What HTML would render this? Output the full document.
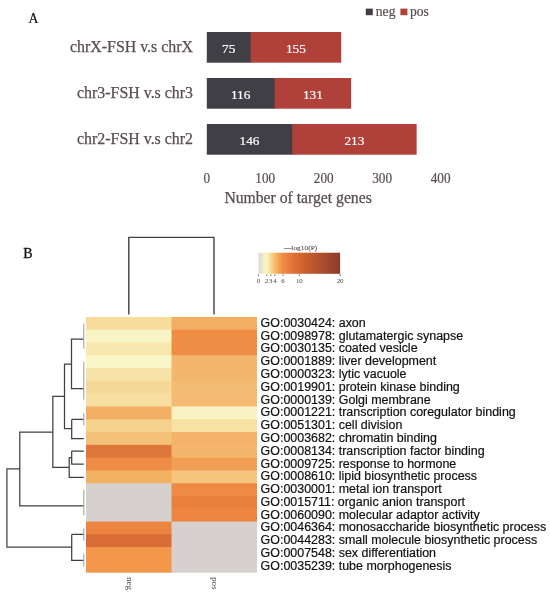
<!DOCTYPE html>
<html><head><meta charset="utf-8"><title>Figure</title>
<style>html,body{margin:0;padding:0;background:#fff;}body{width:550px;height:598px;overflow:hidden;}svg{display:block;}</style>
</head><body>
<svg width="550" height="598" viewBox="0 0 550 598">
<rect width="550" height="598" fill="#fff"/>
<text x="28.5" y="23.4" font-family="'Liberation Serif', 'Times New Roman', serif" font-size="13.7" fill="#111" stroke="#111" stroke-width="0.2">A</text>
<rect x="365.8" y="8.6" width="7" height="6.6" fill="#403f46"/>
<text x="375.8" y="15.6" font-family="'Liberation Serif', 'Times New Roman', serif" font-size="13.6" fill="#594f4f" stroke="#594f4f" stroke-width="0.2">neg</text>
<rect x="400.4" y="8.6" width="7" height="6.6" fill="#af413a"/>
<text x="410" y="15.6" font-family="'Liberation Serif', 'Times New Roman', serif" font-size="13.6" fill="#594f4f" stroke="#594f4f" stroke-width="0.2">pos</text>
<rect x="206.8" y="32" width="44.84" height="30.7" fill="#403f46"/>
<rect x="250.64" y="32" width="90.60" height="30.7" fill="#af413a"/>
<text x="228.72" y="52.90" text-anchor="middle" font-family="'Liberation Serif', 'Times New Roman', serif" font-size="13.3" fill="#fff" stroke="#fff" stroke-width="0.2">75</text>
<text x="295.94" y="52.90" text-anchor="middle" font-family="'Liberation Serif', 'Times New Roman', serif" font-size="13.3" fill="#fff" stroke="#fff" stroke-width="0.2">155</text>
<text x="193" y="52.40" text-anchor="end" font-family="'Liberation Serif', 'Times New Roman', serif" font-size="15.9" fill="#594f4f" stroke="#594f4f" stroke-width="0.25">chrX-FSH v.s chrX</text>
<rect x="206.8" y="78" width="68.80" height="30.7" fill="#403f46"/>
<rect x="274.60" y="78" width="76.57" height="30.7" fill="#af413a"/>
<text x="240.70" y="98.90" text-anchor="middle" font-family="'Liberation Serif', 'Times New Roman', serif" font-size="13.3" fill="#fff" stroke="#fff" stroke-width="0.2">116</text>
<text x="312.89" y="98.90" text-anchor="middle" font-family="'Liberation Serif', 'Times New Roman', serif" font-size="13.3" fill="#fff" stroke="#fff" stroke-width="0.2">131</text>
<text x="193" y="98.40" text-anchor="end" font-family="'Liberation Serif', 'Times New Roman', serif" font-size="15.9" fill="#594f4f" stroke="#594f4f" stroke-width="0.25">chr3-FSH v.s chr3</text>
<rect x="206.8" y="124" width="86.34" height="30.7" fill="#403f46"/>
<rect x="292.14" y="124" width="124.50" height="30.7" fill="#af413a"/>
<text x="249.47" y="144.90" text-anchor="middle" font-family="'Liberation Serif', 'Times New Roman', serif" font-size="13.3" fill="#fff" stroke="#fff" stroke-width="0.2">146</text>
<text x="354.39" y="144.90" text-anchor="middle" font-family="'Liberation Serif', 'Times New Roman', serif" font-size="13.3" fill="#fff" stroke="#fff" stroke-width="0.2">213</text>
<text x="193" y="144.40" text-anchor="end" font-family="'Liberation Serif', 'Times New Roman', serif" font-size="15.9" fill="#594f4f" stroke="#594f4f" stroke-width="0.25">chr2-FSH v.s chr2</text>
<text transform="translate(206.80,183.2) scale(1,1.12)" text-anchor="middle" font-family="'Liberation Serif', 'Times New Roman', serif" font-size="13.2" fill="#594f4f" stroke="#594f4f" stroke-width="0.2">0</text>
<text transform="translate(265.25,183.2) scale(1,1.12)" text-anchor="middle" font-family="'Liberation Serif', 'Times New Roman', serif" font-size="13.2" fill="#594f4f" stroke="#594f4f" stroke-width="0.2">100</text>
<text transform="translate(323.70,183.2) scale(1,1.12)" text-anchor="middle" font-family="'Liberation Serif', 'Times New Roman', serif" font-size="13.2" fill="#594f4f" stroke="#594f4f" stroke-width="0.2">200</text>
<text transform="translate(382.15,183.2) scale(1,1.12)" text-anchor="middle" font-family="'Liberation Serif', 'Times New Roman', serif" font-size="13.2" fill="#594f4f" stroke="#594f4f" stroke-width="0.2">300</text>
<text transform="translate(440.60,183.2) scale(1,1.12)" text-anchor="middle" font-family="'Liberation Serif', 'Times New Roman', serif" font-size="13.2" fill="#594f4f" stroke="#594f4f" stroke-width="0.2">400</text>
<text x="224.4" y="202.8" font-family="'Liberation Serif', 'Times New Roman', serif" font-size="15.7" fill="#594f4f" stroke="#594f4f" stroke-width="0.25">Number of target genes</text>
<text x="23.2" y="257.7" font-family="'Liberation Serif', 'Times New Roman', serif" font-size="14" fill="#111" stroke="#111" stroke-width="0.3">B</text>
<path d="M128.8,314.5V237.4H214V314.5" fill="none" stroke="#404040" stroke-width="1.4"/>
<defs><linearGradient id="cb" x1="0" x2="1" y1="0" y2="0"><stop offset="0" stop-color="#dad6ce"/><stop offset="0.05" stop-color="#eeeacc"/><stop offset="0.1" stop-color="#fbf3c0"/><stop offset="0.15" stop-color="#f8da94"/><stop offset="0.2" stop-color="#f5bc6c"/><stop offset="0.25" stop-color="#f2a052"/><stop offset="0.3" stop-color="#ef8b42"/><stop offset="0.5" stop-color="#d6662f"/><stop offset="0.75" stop-color="#b0502e"/><stop offset="1" stop-color="#8a3c2c"/></linearGradient></defs>
<rect x="258.6" y="252.7" width="81.50" height="21.1" fill="url(#cb)"/>
<text transform="translate(300.6,249.5) scale(1,0.8)" text-anchor="middle" font-family="'Liberation Serif', 'Times New Roman', serif" font-size="7.4" fill="#5a5a5a" stroke="#5a5a5a" stroke-width="0.15">—log10(P)</text>
<rect x="258.10" y="274.4" width="1" height="1.6" fill="#666"/>
<text x="258.60" y="283.2" text-anchor="middle" font-family="'Liberation Serif', 'Times New Roman', serif" font-size="6.9" fill="#444">0</text>
<rect x="266.25" y="274.4" width="1" height="1.6" fill="#666"/>
<text x="266.75" y="283.2" text-anchor="middle" font-family="'Liberation Serif', 'Times New Roman', serif" font-size="6.9" fill="#444">2</text>
<rect x="270.33" y="274.4" width="1" height="1.6" fill="#666"/>
<text x="270.83" y="283.2" text-anchor="middle" font-family="'Liberation Serif', 'Times New Roman', serif" font-size="6.9" fill="#444">3</text>
<rect x="274.40" y="274.4" width="1" height="1.6" fill="#666"/>
<text x="274.90" y="283.2" text-anchor="middle" font-family="'Liberation Serif', 'Times New Roman', serif" font-size="6.9" fill="#444">4</text>
<rect x="282.55" y="274.4" width="1" height="1.6" fill="#666"/>
<text x="283.05" y="283.2" text-anchor="middle" font-family="'Liberation Serif', 'Times New Roman', serif" font-size="6.9" fill="#444">6</text>
<rect x="298.85" y="274.4" width="1" height="1.6" fill="#666"/>
<text x="299.35" y="283.2" text-anchor="middle" font-family="'Liberation Serif', 'Times New Roman', serif" font-size="6.9" fill="#444">10</text>
<rect x="339.60" y="274.4" width="1" height="1.6" fill="#666"/>
<text x="340.10" y="283.2" text-anchor="middle" font-family="'Liberation Serif', 'Times New Roman', serif" font-size="6.9" fill="#444">20</text>
<rect x="86.0" y="317.00" width="87.00" height="14.29" fill="#f7dc9b"/>
<rect x="171.5" y="317.00" width="85.50" height="14.29" fill="#f2ae62"/>
<text x="260.6" y="326.90" font-family="'Liberation Sans', Arial, sans-serif" font-size="12.45" fill="#111" stroke="#111" stroke-width="0.2">GO:0030424: axon</text>
<rect x="86.0" y="329.79" width="87.00" height="14.29" fill="#f9f4c5"/>
<rect x="171.5" y="329.79" width="85.50" height="14.29" fill="#f08d45"/>
<text x="260.6" y="339.69" font-family="'Liberation Sans', Arial, sans-serif" font-size="12.45" fill="#111" stroke="#111" stroke-width="0.2">GO:0098978: glutamatergic synapse</text>
<rect x="86.0" y="342.57" width="87.00" height="14.29" fill="#f8e8ad"/>
<rect x="171.5" y="342.57" width="85.50" height="14.29" fill="#f08d45"/>
<text x="260.6" y="352.47" font-family="'Liberation Sans', Arial, sans-serif" font-size="12.45" fill="#111" stroke="#111" stroke-width="0.2">GO:0030135: coated vesicle</text>
<rect x="86.0" y="355.36" width="87.00" height="14.29" fill="#f9f7c8"/>
<rect x="171.5" y="355.36" width="85.50" height="14.29" fill="#f3b66d"/>
<text x="260.6" y="365.25" font-family="'Liberation Sans', Arial, sans-serif" font-size="12.45" fill="#111" stroke="#111" stroke-width="0.2">GO:0001889: liver development</text>
<rect x="86.0" y="368.14" width="87.00" height="14.29" fill="#f7e2a7"/>
<rect x="171.5" y="368.14" width="85.50" height="14.29" fill="#f3b66d"/>
<text x="260.6" y="378.04" font-family="'Liberation Sans', Arial, sans-serif" font-size="12.45" fill="#111" stroke="#111" stroke-width="0.2">GO:0000323: lytic vacuole</text>
<rect x="86.0" y="380.93" width="87.00" height="14.29" fill="#f6d899"/>
<rect x="171.5" y="380.93" width="85.50" height="14.29" fill="#f4bb72"/>
<text x="260.6" y="390.82" font-family="'Liberation Sans', Arial, sans-serif" font-size="12.45" fill="#111" stroke="#111" stroke-width="0.2">GO:0019901: protein kinase binding</text>
<rect x="86.0" y="393.71" width="87.00" height="14.29" fill="#f7dfa1"/>
<rect x="171.5" y="393.71" width="85.50" height="14.29" fill="#f4bb72"/>
<text x="260.6" y="403.61" font-family="'Liberation Sans', Arial, sans-serif" font-size="12.45" fill="#111" stroke="#111" stroke-width="0.2">GO:0000139: Golgi membrane</text>
<rect x="86.0" y="406.50" width="87.00" height="14.29" fill="#f3b064"/>
<rect x="171.5" y="406.50" width="85.50" height="14.29" fill="#f9f3c3"/>
<text x="260.6" y="416.39" font-family="'Liberation Sans', Arial, sans-serif" font-size="12.45" fill="#111" stroke="#111" stroke-width="0.2">GO:0001221: transcription coregulator binding</text>
<rect x="86.0" y="419.28" width="87.00" height="14.29" fill="#f5d28c"/>
<rect x="171.5" y="419.28" width="85.50" height="14.29" fill="#f7e1a3"/>
<text x="260.6" y="429.18" font-family="'Liberation Sans', Arial, sans-serif" font-size="12.45" fill="#111" stroke="#111" stroke-width="0.2">GO:0051301: cell division</text>
<rect x="86.0" y="432.06" width="87.00" height="14.29" fill="#f4c178"/>
<rect x="171.5" y="432.06" width="85.50" height="14.29" fill="#f3b469"/>
<text x="260.6" y="441.96" font-family="'Liberation Sans', Arial, sans-serif" font-size="12.45" fill="#111" stroke="#111" stroke-width="0.2">GO:0003682: chromatin binding</text>
<rect x="86.0" y="444.85" width="87.00" height="14.29" fill="#dd7639"/>
<rect x="171.5" y="444.85" width="85.50" height="14.29" fill="#f3b66b"/>
<text x="260.6" y="454.75" font-family="'Liberation Sans', Arial, sans-serif" font-size="12.45" fill="#111" stroke="#111" stroke-width="0.2">GO:0008134: transcription factor binding</text>
<rect x="86.0" y="457.63" width="87.00" height="14.29" fill="#ef8c46"/>
<rect x="171.5" y="457.63" width="85.50" height="14.29" fill="#f29e54"/>
<text x="260.6" y="467.53" font-family="'Liberation Sans', Arial, sans-serif" font-size="12.45" fill="#111" stroke="#111" stroke-width="0.2">GO:0009725: response to hormone</text>
<rect x="86.0" y="470.42" width="87.00" height="14.29" fill="#f2b264"/>
<rect x="171.5" y="470.42" width="85.50" height="14.29" fill="#f5c47d"/>
<text x="260.6" y="480.32" font-family="'Liberation Sans', Arial, sans-serif" font-size="12.45" fill="#111" stroke="#111" stroke-width="0.2">GO:0008610: lipid biosynthetic process</text>
<rect x="86.0" y="483.21" width="87.00" height="14.29" fill="#d6d1ce"/>
<rect x="171.5" y="483.21" width="85.50" height="14.29" fill="#ef8a43"/>
<text x="260.6" y="493.11" font-family="'Liberation Sans', Arial, sans-serif" font-size="12.45" fill="#111" stroke="#111" stroke-width="0.2">GO:0030001: metal ion transport</text>
<rect x="86.0" y="495.99" width="87.00" height="14.29" fill="#d6d1ce"/>
<rect x="171.5" y="495.99" width="85.50" height="14.29" fill="#e9803c"/>
<text x="260.6" y="505.89" font-family="'Liberation Sans', Arial, sans-serif" font-size="12.45" fill="#111" stroke="#111" stroke-width="0.2">GO:0015711: organic anion transport</text>
<rect x="86.0" y="508.77" width="87.00" height="14.29" fill="#d6d1ce"/>
<rect x="171.5" y="508.77" width="85.50" height="14.29" fill="#ec8641"/>
<text x="260.6" y="518.67" font-family="'Liberation Sans', Arial, sans-serif" font-size="12.45" fill="#111" stroke="#111" stroke-width="0.2">GO:0060090: molecular adaptor activity</text>
<rect x="86.0" y="521.56" width="87.00" height="14.29" fill="#eb853f"/>
<rect x="171.5" y="521.56" width="85.50" height="14.29" fill="#d6d1ce"/>
<text x="260.6" y="531.46" font-family="'Liberation Sans', Arial, sans-serif" font-size="12.45" fill="#111" stroke="#111" stroke-width="0.2">GO:0046364: monosaccharide biosynthetic process</text>
<rect x="86.0" y="534.35" width="87.00" height="14.29" fill="#d96c34"/>
<rect x="171.5" y="534.35" width="85.50" height="14.29" fill="#d6d1ce"/>
<text x="260.6" y="544.25" font-family="'Liberation Sans', Arial, sans-serif" font-size="12.45" fill="#111" stroke="#111" stroke-width="0.2">GO:0044283: small molecule biosynthetic process</text>
<rect x="86.0" y="547.13" width="87.00" height="14.29" fill="#f3984a"/>
<rect x="171.5" y="547.13" width="85.50" height="14.29" fill="#d6d1ce"/>
<text x="260.6" y="557.03" font-family="'Liberation Sans', Arial, sans-serif" font-size="12.45" fill="#111" stroke="#111" stroke-width="0.2">GO:0007548: sex differentiation</text>
<rect x="86.0" y="559.91" width="87.00" height="12.79" fill="#f3984a"/>
<rect x="171.5" y="559.91" width="85.50" height="12.79" fill="#d6d1ce"/>
<text x="260.6" y="569.81" font-family="'Liberation Sans', Arial, sans-serif" font-size="12.45" fill="#111" stroke="#111" stroke-width="0.2">GO:0035239: tube morphogenesis</text>
<path d="M83.8,339.2H71.5V388.5H83.8 M71.5,364.2H64.5V428.5H71.7 M64.5,396.4H52.85V467.3H69.2 M71.7,419.4V438.6H83.8 M71.7,419.4H83.8 M69.2,457.6V477.4H83.8 M69.2,457.6H71.7 M71.7,451.1V464H83.8 M71.7,451.1H83.8 M52.85,432.1H19.8V505.8H83.8 M19.8,468.8H6.9V547.2H71.7 M71.7,534.4V560.3H83.8 M71.7,534.4H83.8" fill="none" stroke="#404040" stroke-width="1.25"/>
<path d="M83.8,323.5V348.6 M83.8,362V399.6 M83.8,413.2V425.4 M83.8,489.5V515.4 M83.8,528.4V540.8 M83.8,553.8V566.4" fill="none" stroke="#9a9a9a" stroke-width="1"/>
<text transform="translate(126.7,577) rotate(90)" font-family="'Liberation Serif', 'Times New Roman', serif" font-size="9.1" fill="#4a4a4a">neg</text>
<text transform="translate(212,577) rotate(90)" font-family="'Liberation Serif', 'Times New Roman', serif" font-size="9.1" fill="#4a4a4a">pos</text>
</svg>
</body></html>
